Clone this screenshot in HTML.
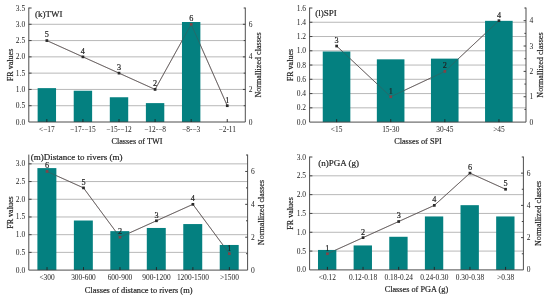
<!DOCTYPE html>
<html><head><meta charset="utf-8"><title>FR charts</title>
<style>
html,body{margin:0;padding:0;background:#fff;}
svg{display:block;font-family:'Liberation Serif', 'DejaVu Serif', serif;}
text{fill:#222;}
.b{stroke:#222;stroke-width:0.18px;}
</style></head><body>
<svg width="550" height="298" viewBox="0 0 550 298">
<rect width="550" height="298" fill="#fff"/>
<g font-family="'Liberation Serif', 'DejaVu Serif', serif" fill="#1e1e1e">
<line x1="28.80" y1="105.71" x2="245.30" y2="105.71" stroke="#b4b4b4" stroke-width="0.95"/>
<line x1="28.80" y1="89.43" x2="245.30" y2="89.43" stroke="#b4b4b4" stroke-width="0.95"/>
<line x1="28.80" y1="73.14" x2="245.30" y2="73.14" stroke="#b4b4b4" stroke-width="0.95"/>
<line x1="28.80" y1="56.86" x2="245.30" y2="56.86" stroke="#b4b4b4" stroke-width="0.95"/>
<line x1="28.80" y1="40.57" x2="245.30" y2="40.57" stroke="#b4b4b4" stroke-width="0.95"/>
<line x1="28.80" y1="24.29" x2="245.30" y2="24.29" stroke="#b4b4b4" stroke-width="0.95"/>
<polyline fill="none" stroke="#505050" stroke-width="0.75" points="46.84,40.57 82.92,56.86 119.01,73.14 155.09,89.43 191.18,24.29 227.26,105.71"/>
<rect x="37.64" y="88.13" width="18.40" height="33.87" fill="#048080"/>
<rect x="73.72" y="90.73" width="18.40" height="31.27" fill="#048080"/>
<rect x="109.81" y="97.25" width="18.40" height="24.75" fill="#048080"/>
<rect x="145.89" y="103.11" width="18.40" height="18.89" fill="#048080"/>
<rect x="181.97" y="22.01" width="18.40" height="99.99" fill="#048080"/>
<path d="M28.80 7.60V122.00H245.30V7.60" fill="none" stroke="#444444" stroke-width="0.95"/>
<text x="25.20" y="124.50" text-anchor="end" font-size="7.5">0.0</text>
<line x1="28.80" y1="105.71" x2="31.60" y2="105.71" stroke="#444444" stroke-width="1"/>
<text x="25.20" y="108.21" text-anchor="end" font-size="7.5">0.5</text>
<line x1="28.80" y1="89.43" x2="31.60" y2="89.43" stroke="#444444" stroke-width="1"/>
<text x="25.20" y="91.93" text-anchor="end" font-size="7.5">1.0</text>
<line x1="28.80" y1="73.14" x2="31.60" y2="73.14" stroke="#444444" stroke-width="1"/>
<text x="25.20" y="75.64" text-anchor="end" font-size="7.5">1.5</text>
<line x1="28.80" y1="56.86" x2="31.60" y2="56.86" stroke="#444444" stroke-width="1"/>
<text x="25.20" y="59.36" text-anchor="end" font-size="7.5">2.0</text>
<line x1="28.80" y1="40.57" x2="31.60" y2="40.57" stroke="#444444" stroke-width="1"/>
<text x="25.20" y="43.07" text-anchor="end" font-size="7.5">2.5</text>
<line x1="28.80" y1="24.29" x2="31.60" y2="24.29" stroke="#444444" stroke-width="1"/>
<text x="25.20" y="26.79" text-anchor="end" font-size="7.5">3.0</text>
<line x1="28.80" y1="8.00" x2="31.60" y2="8.00" stroke="#444444" stroke-width="1"/>
<text x="25.20" y="10.50" text-anchor="end" font-size="7.5">3.5</text>
<text x="248.70" y="124.50" font-size="7.5">0</text>
<line x1="243.70" y1="105.71" x2="245.30" y2="105.71" stroke="#444444" stroke-width="1"/>
<line x1="242.90" y1="89.43" x2="245.30" y2="89.43" stroke="#444444" stroke-width="1"/>
<text x="248.70" y="91.93" font-size="7.5">2</text>
<line x1="243.70" y1="73.14" x2="245.30" y2="73.14" stroke="#444444" stroke-width="1"/>
<line x1="242.90" y1="56.86" x2="245.30" y2="56.86" stroke="#444444" stroke-width="1"/>
<text x="248.70" y="59.36" font-size="7.5">4</text>
<line x1="243.70" y1="40.57" x2="245.30" y2="40.57" stroke="#444444" stroke-width="1"/>
<line x1="242.90" y1="24.29" x2="245.30" y2="24.29" stroke="#444444" stroke-width="1"/>
<text x="248.70" y="26.79" font-size="7.5">6</text>
<line x1="243.70" y1="8.00" x2="245.30" y2="8.00" stroke="#444444" stroke-width="1"/>
<line x1="46.84" y1="122.00" x2="46.84" y2="119.00" stroke="#222" stroke-width="0.9"/>
<text x="46.84" y="131.60" text-anchor="middle" font-size="7.4">&lt;−17</text>
<line x1="82.92" y1="122.00" x2="82.92" y2="119.00" stroke="#222" stroke-width="0.9"/>
<text x="82.92" y="131.60" text-anchor="middle" font-size="7.4">−17-−15</text>
<line x1="119.01" y1="122.00" x2="119.01" y2="119.00" stroke="#222" stroke-width="0.9"/>
<text x="119.01" y="131.60" text-anchor="middle" font-size="7.4">−15-−12</text>
<line x1="155.09" y1="122.00" x2="155.09" y2="119.00" stroke="#222" stroke-width="0.9"/>
<text x="155.09" y="131.60" text-anchor="middle" font-size="7.4">−12-−8</text>
<line x1="191.18" y1="122.00" x2="191.18" y2="119.00" stroke="#222" stroke-width="0.9"/>
<text x="191.18" y="131.60" text-anchor="middle" font-size="7.4">−8-−3</text>
<line x1="227.26" y1="122.00" x2="227.26" y2="119.00" stroke="#222" stroke-width="0.9"/>
<text x="227.26" y="131.60" text-anchor="middle" font-size="7.4">−2-11</text>
<polyline fill="none" stroke="#5a4444" stroke-opacity="0.5" stroke-width="0.75" points="46.84,40.57 82.92,56.86 119.01,73.14 155.09,89.43 191.18,24.29 227.26,105.71"/>
<rect x="45.49" y="39.22" width="2.7" height="2.7" fill="#2a2a2a"/>
<text x="46.84" y="37.47" class="b" text-anchor="middle" font-size="8.2">5</text>
<rect x="81.58" y="55.51" width="2.7" height="2.7" fill="#2a2a2a"/>
<text x="82.92" y="53.76" class="b" text-anchor="middle" font-size="8.2">4</text>
<rect x="117.66" y="71.79" width="2.7" height="2.7" fill="#2a2a2a"/>
<text x="119.01" y="70.04" class="b" text-anchor="middle" font-size="8.2">3</text>
<rect x="153.74" y="88.08" width="2.7" height="2.7" fill="#2a2a2a"/>
<text x="155.09" y="86.33" class="b" text-anchor="middle" font-size="8.2">2</text>
<rect x="189.83" y="22.94" width="2.7" height="2.7" fill="#7e4448"/>
<text x="191.18" y="21.19" class="b" text-anchor="middle" font-size="8.2">6</text>
<rect x="225.91" y="104.36" width="2.7" height="2.7" fill="#2a2a2a"/>
<text x="227.26" y="102.61" class="b" text-anchor="middle" font-size="8.2">1</text>
<text class="b" x="35.00" y="16.50" font-size="9.0">(k)TWI</text>
<text class="b" x="137.00" y="144.40" text-anchor="middle" font-size="8.25">Classes of TWI</text>
<text class="b" transform="translate(13.40 65.00) rotate(-90)" text-anchor="middle" font-size="8.1">FR values</text>
<text class="b" transform="translate(261.30 65.00) rotate(-90)" text-anchor="middle" font-size="8.15">Normallized classes</text>
<line x1="309.60" y1="107.84" x2="526.00" y2="107.84" stroke="#b4b4b4" stroke-width="0.95"/>
<line x1="309.60" y1="93.57" x2="526.00" y2="93.57" stroke="#b4b4b4" stroke-width="0.95"/>
<line x1="309.60" y1="79.31" x2="526.00" y2="79.31" stroke="#b4b4b4" stroke-width="0.95"/>
<line x1="309.60" y1="65.05" x2="526.00" y2="65.05" stroke="#b4b4b4" stroke-width="0.95"/>
<line x1="309.60" y1="50.79" x2="526.00" y2="50.79" stroke="#b4b4b4" stroke-width="0.95"/>
<line x1="309.60" y1="36.52" x2="526.00" y2="36.52" stroke="#b4b4b4" stroke-width="0.95"/>
<line x1="309.60" y1="22.26" x2="526.00" y2="22.26" stroke="#b4b4b4" stroke-width="0.95"/>
<polyline fill="none" stroke="#505050" stroke-width="0.75" points="336.65,46.03 390.75,96.74 444.85,71.39 498.95,20.68"/>
<rect x="322.75" y="51.50" width="27.59" height="70.60" fill="#048080"/>
<rect x="376.85" y="59.34" width="27.59" height="62.75" fill="#048080"/>
<rect x="430.95" y="58.63" width="27.59" height="63.47" fill="#048080"/>
<rect x="485.05" y="20.84" width="27.59" height="101.26" fill="#048080"/>
<path d="M309.60 7.60V122.10H526.00V7.60" fill="none" stroke="#444444" stroke-width="0.95"/>
<text x="306.00" y="124.60" text-anchor="end" font-size="7.5">0.0</text>
<line x1="309.60" y1="107.84" x2="312.40" y2="107.84" stroke="#444444" stroke-width="1"/>
<text x="306.00" y="110.34" text-anchor="end" font-size="7.5">0.2</text>
<line x1="309.60" y1="93.57" x2="312.40" y2="93.57" stroke="#444444" stroke-width="1"/>
<text x="306.00" y="96.07" text-anchor="end" font-size="7.5">0.4</text>
<line x1="309.60" y1="79.31" x2="312.40" y2="79.31" stroke="#444444" stroke-width="1"/>
<text x="306.00" y="81.81" text-anchor="end" font-size="7.5">0.6</text>
<line x1="309.60" y1="65.05" x2="312.40" y2="65.05" stroke="#444444" stroke-width="1"/>
<text x="306.00" y="67.55" text-anchor="end" font-size="7.5">0.8</text>
<line x1="309.60" y1="50.79" x2="312.40" y2="50.79" stroke="#444444" stroke-width="1"/>
<text x="306.00" y="53.29" text-anchor="end" font-size="7.5">1.0</text>
<line x1="309.60" y1="36.52" x2="312.40" y2="36.52" stroke="#444444" stroke-width="1"/>
<text x="306.00" y="39.02" text-anchor="end" font-size="7.5">1.2</text>
<line x1="309.60" y1="22.26" x2="312.40" y2="22.26" stroke="#444444" stroke-width="1"/>
<text x="306.00" y="24.76" text-anchor="end" font-size="7.5">1.4</text>
<line x1="309.60" y1="8.00" x2="312.40" y2="8.00" stroke="#444444" stroke-width="1"/>
<text x="306.00" y="10.50" text-anchor="end" font-size="7.5">1.6</text>
<text x="529.40" y="124.60" font-size="7.5">0</text>
<line x1="524.40" y1="109.42" x2="526.00" y2="109.42" stroke="#444444" stroke-width="1"/>
<line x1="523.60" y1="96.74" x2="526.00" y2="96.74" stroke="#444444" stroke-width="1"/>
<text x="529.40" y="99.24" font-size="7.5">1</text>
<line x1="524.40" y1="84.07" x2="526.00" y2="84.07" stroke="#444444" stroke-width="1"/>
<line x1="523.60" y1="71.39" x2="526.00" y2="71.39" stroke="#444444" stroke-width="1"/>
<text x="529.40" y="73.89" font-size="7.5">2</text>
<line x1="524.40" y1="58.71" x2="526.00" y2="58.71" stroke="#444444" stroke-width="1"/>
<line x1="523.60" y1="46.03" x2="526.00" y2="46.03" stroke="#444444" stroke-width="1"/>
<text x="529.40" y="48.53" font-size="7.5">3</text>
<line x1="524.40" y1="33.36" x2="526.00" y2="33.36" stroke="#444444" stroke-width="1"/>
<line x1="523.60" y1="20.68" x2="526.00" y2="20.68" stroke="#444444" stroke-width="1"/>
<text x="529.40" y="23.18" font-size="7.5">4</text>
<line x1="524.40" y1="8.00" x2="526.00" y2="8.00" stroke="#444444" stroke-width="1"/>
<line x1="336.65" y1="122.10" x2="336.65" y2="119.10" stroke="#222" stroke-width="0.9"/>
<text x="336.65" y="131.70" text-anchor="middle" font-size="7.4">&lt;15</text>
<line x1="390.75" y1="122.10" x2="390.75" y2="119.10" stroke="#222" stroke-width="0.9"/>
<text x="390.75" y="131.70" text-anchor="middle" font-size="7.4">15-30</text>
<line x1="444.85" y1="122.10" x2="444.85" y2="119.10" stroke="#222" stroke-width="0.9"/>
<text x="444.85" y="131.70" text-anchor="middle" font-size="7.4">30-45</text>
<line x1="498.95" y1="122.10" x2="498.95" y2="119.10" stroke="#222" stroke-width="0.9"/>
<text x="498.95" y="131.70" text-anchor="middle" font-size="7.4">&gt;45</text>
<polyline fill="none" stroke="#5a4444" stroke-opacity="0.5" stroke-width="0.75" points="336.65,46.03 390.75,96.74 444.85,71.39 498.95,20.68"/>
<rect x="335.30" y="44.68" width="2.7" height="2.7" fill="#2a2a2a"/>
<text x="336.65" y="42.93" class="b" text-anchor="middle" font-size="8.2">3</text>
<rect x="389.40" y="95.39" width="2.7" height="2.7" fill="#7e4448"/>
<text x="390.75" y="93.64" class="b" text-anchor="middle" font-size="8.2">1</text>
<rect x="443.50" y="70.04" width="2.7" height="2.7" fill="#7e4448"/>
<text x="444.85" y="68.29" class="b" text-anchor="middle" font-size="8.2">2</text>
<rect x="497.60" y="19.33" width="2.7" height="2.7" fill="#2a2a2a"/>
<text x="498.95" y="17.58" class="b" text-anchor="middle" font-size="8.2">4</text>
<text class="b" x="315.30" y="16.30" font-size="9.0">(l)SPI</text>
<text class="b" x="418.00" y="144.40" text-anchor="middle" font-size="8.25">Classes of SPI</text>
<text class="b" transform="translate(293.20 65.05) rotate(-90)" text-anchor="middle" font-size="8.1">FR values</text>
<text class="b" transform="translate(543.00 65.05) rotate(-90)" text-anchor="middle" font-size="8.15">Normallized classes</text>
<line x1="28.80" y1="252.39" x2="247.60" y2="252.39" stroke="#b4b4b4" stroke-width="0.95"/>
<line x1="28.80" y1="234.68" x2="247.60" y2="234.68" stroke="#b4b4b4" stroke-width="0.95"/>
<line x1="28.80" y1="216.98" x2="247.60" y2="216.98" stroke="#b4b4b4" stroke-width="0.95"/>
<line x1="28.80" y1="199.27" x2="247.60" y2="199.27" stroke="#b4b4b4" stroke-width="0.95"/>
<line x1="28.80" y1="181.56" x2="247.60" y2="181.56" stroke="#b4b4b4" stroke-width="0.95"/>
<line x1="28.80" y1="163.85" x2="247.60" y2="163.85" stroke="#b4b4b4" stroke-width="0.95"/>
<polyline fill="none" stroke="#505050" stroke-width="0.75" points="47.03,171.44 83.50,187.89 119.97,237.21 156.43,220.77 192.90,204.33 229.37,253.66"/>
<rect x="37.40" y="168.10" width="18.96" height="102.00" fill="#048080"/>
<rect x="73.87" y="220.52" width="18.96" height="49.58" fill="#048080"/>
<rect x="110.34" y="231.14" width="18.96" height="38.96" fill="#048080"/>
<rect x="146.80" y="227.96" width="18.96" height="42.14" fill="#048080"/>
<rect x="183.27" y="224.06" width="18.96" height="46.04" fill="#048080"/>
<rect x="219.74" y="244.96" width="18.96" height="25.14" fill="#048080"/>
<path d="M28.80 154.60V270.10H247.60V154.60" fill="none" stroke="#444444" stroke-width="0.95"/>
<text x="25.20" y="272.60" text-anchor="end" font-size="7.5">0.0</text>
<line x1="28.80" y1="252.39" x2="31.60" y2="252.39" stroke="#444444" stroke-width="1"/>
<text x="25.20" y="254.89" text-anchor="end" font-size="7.5">0.5</text>
<line x1="28.80" y1="234.68" x2="31.60" y2="234.68" stroke="#444444" stroke-width="1"/>
<text x="25.20" y="237.18" text-anchor="end" font-size="7.5">1.0</text>
<line x1="28.80" y1="216.98" x2="31.60" y2="216.98" stroke="#444444" stroke-width="1"/>
<text x="25.20" y="219.48" text-anchor="end" font-size="7.5">1.5</text>
<line x1="28.80" y1="199.27" x2="31.60" y2="199.27" stroke="#444444" stroke-width="1"/>
<text x="25.20" y="201.77" text-anchor="end" font-size="7.5">2.0</text>
<line x1="28.80" y1="181.56" x2="31.60" y2="181.56" stroke="#444444" stroke-width="1"/>
<text x="25.20" y="184.06" text-anchor="end" font-size="7.5">2.5</text>
<line x1="28.80" y1="163.85" x2="31.60" y2="163.85" stroke="#444444" stroke-width="1"/>
<text x="25.20" y="166.35" text-anchor="end" font-size="7.5">3.0</text>
<text x="251.00" y="272.60" font-size="7.5">0</text>
<line x1="246.00" y1="253.66" x2="247.60" y2="253.66" stroke="#444444" stroke-width="1"/>
<line x1="245.20" y1="237.21" x2="247.60" y2="237.21" stroke="#444444" stroke-width="1"/>
<text x="251.00" y="239.71" font-size="7.5">2</text>
<line x1="246.00" y1="220.77" x2="247.60" y2="220.77" stroke="#444444" stroke-width="1"/>
<line x1="245.20" y1="204.33" x2="247.60" y2="204.33" stroke="#444444" stroke-width="1"/>
<text x="251.00" y="206.83" font-size="7.5">4</text>
<line x1="246.00" y1="187.89" x2="247.60" y2="187.89" stroke="#444444" stroke-width="1"/>
<line x1="245.20" y1="171.44" x2="247.60" y2="171.44" stroke="#444444" stroke-width="1"/>
<text x="251.00" y="173.94" font-size="7.5">6</text>
<line x1="246.00" y1="155.00" x2="247.60" y2="155.00" stroke="#444444" stroke-width="1"/>
<line x1="47.03" y1="270.10" x2="47.03" y2="267.10" stroke="#222" stroke-width="0.9"/>
<text x="47.03" y="279.70" text-anchor="middle" font-size="7.4">&lt;300</text>
<line x1="83.50" y1="270.10" x2="83.50" y2="267.10" stroke="#222" stroke-width="0.9"/>
<text x="83.50" y="279.70" text-anchor="middle" font-size="7.4">300-600</text>
<line x1="119.97" y1="270.10" x2="119.97" y2="267.10" stroke="#222" stroke-width="0.9"/>
<text x="119.97" y="279.70" text-anchor="middle" font-size="7.4">600-900</text>
<line x1="156.43" y1="270.10" x2="156.43" y2="267.10" stroke="#222" stroke-width="0.9"/>
<text x="156.43" y="279.70" text-anchor="middle" font-size="7.4">900-1200</text>
<line x1="192.90" y1="270.10" x2="192.90" y2="267.10" stroke="#222" stroke-width="0.9"/>
<text x="192.90" y="279.70" text-anchor="middle" font-size="7.4">1200-1500</text>
<line x1="229.37" y1="270.10" x2="229.37" y2="267.10" stroke="#222" stroke-width="0.9"/>
<text x="229.37" y="279.70" text-anchor="middle" font-size="7.4">&gt;1500</text>
<polyline fill="none" stroke="#5a4444" stroke-opacity="0.5" stroke-width="0.75" points="47.03,171.44 83.50,187.89 119.97,237.21 156.43,220.77 192.90,204.33 229.37,253.66"/>
<rect x="45.68" y="170.09" width="2.7" height="2.7" fill="#7e4448"/>
<text x="47.03" y="168.34" class="b" text-anchor="middle" font-size="8.2">6</text>
<rect x="82.15" y="186.54" width="2.7" height="2.7" fill="#2a2a2a"/>
<text x="83.50" y="184.79" class="b" text-anchor="middle" font-size="8.2">5</text>
<rect x="118.62" y="235.86" width="2.7" height="2.7" fill="#7e4448"/>
<text x="119.97" y="234.11" class="b" text-anchor="middle" font-size="8.2">2</text>
<rect x="155.08" y="219.42" width="2.7" height="2.7" fill="#2a2a2a"/>
<text x="156.43" y="217.67" class="b" text-anchor="middle" font-size="8.2">3</text>
<rect x="191.55" y="202.98" width="2.7" height="2.7" fill="#2a2a2a"/>
<text x="192.90" y="201.23" class="b" text-anchor="middle" font-size="8.2">4</text>
<rect x="228.02" y="252.31" width="2.7" height="2.7" fill="#7e4448"/>
<text x="229.37" y="250.56" class="b" text-anchor="middle" font-size="8.2">1</text>
<text class="b" x="30.70" y="160.00" font-size="9.0">(m)Distance to rivers (m)</text>
<text class="b" x="138.60" y="292.70" text-anchor="middle" font-size="8.4">Classes of distance to rivers (m)</text>
<text class="b" transform="translate(12.70 212.55) rotate(-90)" text-anchor="middle" font-size="8.1">FR values</text>
<text class="b" transform="translate(264.00 212.55) rotate(-90)" text-anchor="middle" font-size="8.15">Normallized classes</text>
<line x1="309.60" y1="251.08" x2="523.40" y2="251.08" stroke="#b4b4b4" stroke-width="0.95"/>
<line x1="309.60" y1="232.27" x2="523.40" y2="232.27" stroke="#b4b4b4" stroke-width="0.95"/>
<line x1="309.60" y1="213.45" x2="523.40" y2="213.45" stroke="#b4b4b4" stroke-width="0.95"/>
<line x1="309.60" y1="194.63" x2="523.40" y2="194.63" stroke="#b4b4b4" stroke-width="0.95"/>
<line x1="309.60" y1="175.82" x2="523.40" y2="175.82" stroke="#b4b4b4" stroke-width="0.95"/>
<polyline fill="none" stroke="#505050" stroke-width="0.75" points="327.42,253.77 363.05,237.64 398.68,221.51 434.32,205.39 469.95,173.13 505.58,189.26"/>
<rect x="317.99" y="249.95" width="18.35" height="19.95" fill="#048080"/>
<rect x="353.62" y="245.44" width="18.35" height="24.46" fill="#048080"/>
<rect x="389.26" y="236.78" width="18.35" height="33.12" fill="#048080"/>
<rect x="424.89" y="216.46" width="18.35" height="53.44" fill="#048080"/>
<rect x="460.52" y="205.17" width="18.35" height="64.73" fill="#048080"/>
<rect x="496.16" y="216.46" width="18.35" height="53.44" fill="#048080"/>
<path d="M309.60 156.60V269.90H523.40V156.60" fill="none" stroke="#444444" stroke-width="0.95"/>
<text x="306.00" y="272.40" text-anchor="end" font-size="7.5">0.0</text>
<line x1="309.60" y1="251.08" x2="312.40" y2="251.08" stroke="#444444" stroke-width="1"/>
<text x="306.00" y="253.58" text-anchor="end" font-size="7.5">0.5</text>
<line x1="309.60" y1="232.27" x2="312.40" y2="232.27" stroke="#444444" stroke-width="1"/>
<text x="306.00" y="234.77" text-anchor="end" font-size="7.5">1.0</text>
<line x1="309.60" y1="213.45" x2="312.40" y2="213.45" stroke="#444444" stroke-width="1"/>
<text x="306.00" y="215.95" text-anchor="end" font-size="7.5">1.5</text>
<line x1="309.60" y1="194.63" x2="312.40" y2="194.63" stroke="#444444" stroke-width="1"/>
<text x="306.00" y="197.13" text-anchor="end" font-size="7.5">2.0</text>
<line x1="309.60" y1="175.82" x2="312.40" y2="175.82" stroke="#444444" stroke-width="1"/>
<text x="306.00" y="178.32" text-anchor="end" font-size="7.5">2.5</text>
<line x1="309.60" y1="157.00" x2="312.40" y2="157.00" stroke="#444444" stroke-width="1"/>
<text x="306.00" y="159.50" text-anchor="end" font-size="7.5">3.0</text>
<text x="526.80" y="272.40" font-size="7.5">0</text>
<line x1="521.80" y1="253.77" x2="523.40" y2="253.77" stroke="#444444" stroke-width="1"/>
<line x1="521.00" y1="237.64" x2="523.40" y2="237.64" stroke="#444444" stroke-width="1"/>
<text x="526.80" y="240.14" font-size="7.5">2</text>
<line x1="521.80" y1="221.51" x2="523.40" y2="221.51" stroke="#444444" stroke-width="1"/>
<line x1="521.00" y1="205.39" x2="523.40" y2="205.39" stroke="#444444" stroke-width="1"/>
<text x="526.80" y="207.89" font-size="7.5">4</text>
<line x1="521.80" y1="189.26" x2="523.40" y2="189.26" stroke="#444444" stroke-width="1"/>
<line x1="521.00" y1="173.13" x2="523.40" y2="173.13" stroke="#444444" stroke-width="1"/>
<text x="526.80" y="175.63" font-size="7.5">6</text>
<line x1="521.80" y1="157.00" x2="523.40" y2="157.00" stroke="#444444" stroke-width="1"/>
<line x1="327.42" y1="269.90" x2="327.42" y2="266.90" stroke="#222" stroke-width="0.9"/>
<text x="327.42" y="279.50" text-anchor="middle" font-size="7.4">&lt;0.12</text>
<line x1="363.05" y1="269.90" x2="363.05" y2="266.90" stroke="#222" stroke-width="0.9"/>
<text x="363.05" y="279.50" text-anchor="middle" font-size="7.4">0.12-0.18</text>
<line x1="398.68" y1="269.90" x2="398.68" y2="266.90" stroke="#222" stroke-width="0.9"/>
<text x="398.68" y="279.50" text-anchor="middle" font-size="7.4">0.18-0.24</text>
<line x1="434.32" y1="269.90" x2="434.32" y2="266.90" stroke="#222" stroke-width="0.9"/>
<text x="434.32" y="279.50" text-anchor="middle" font-size="7.4">0.24-0.30</text>
<line x1="469.95" y1="269.90" x2="469.95" y2="266.90" stroke="#222" stroke-width="0.9"/>
<text x="469.95" y="279.50" text-anchor="middle" font-size="7.4">0.30-0.38</text>
<line x1="505.58" y1="269.90" x2="505.58" y2="266.90" stroke="#222" stroke-width="0.9"/>
<text x="505.58" y="279.50" text-anchor="middle" font-size="7.4">&gt;0.38</text>
<polyline fill="none" stroke="#5a4444" stroke-opacity="0.5" stroke-width="0.75" points="327.42,253.77 363.05,237.64 398.68,221.51 434.32,205.39 469.95,173.13 505.58,189.26"/>
<rect x="326.07" y="252.42" width="2.7" height="2.7" fill="#7e4448"/>
<text x="327.42" y="250.67" class="b" text-anchor="middle" font-size="8.2">1</text>
<rect x="361.70" y="236.29" width="2.7" height="2.7" fill="#2a2a2a"/>
<text x="363.05" y="234.54" class="b" text-anchor="middle" font-size="8.2">2</text>
<rect x="397.33" y="220.16" width="2.7" height="2.7" fill="#2a2a2a"/>
<text x="398.68" y="218.41" class="b" text-anchor="middle" font-size="8.2">3</text>
<rect x="432.97" y="204.04" width="2.7" height="2.7" fill="#2a2a2a"/>
<text x="434.32" y="202.29" class="b" text-anchor="middle" font-size="8.2">4</text>
<rect x="468.60" y="171.78" width="2.7" height="2.7" fill="#2a2a2a"/>
<text x="469.95" y="170.03" class="b" text-anchor="middle" font-size="8.2">6</text>
<rect x="504.23" y="187.91" width="2.7" height="2.7" fill="#2a2a2a"/>
<text x="505.58" y="186.16" class="b" text-anchor="middle" font-size="8.2">5</text>
<text class="b" x="318.20" y="165.50" font-size="9.0">(n)PGA (g)</text>
<text class="b" x="416.40" y="292.20" text-anchor="middle" font-size="8.25">Classes of PGA (g)</text>
<text class="b" transform="translate(293.30 213.45) rotate(-90)" text-anchor="middle" font-size="8.1">FR values</text>
<text class="b" transform="translate(541.20 213.45) rotate(-90)" text-anchor="middle" font-size="8.15">Normallized classes</text>
</g>
</svg>
</body></html>
